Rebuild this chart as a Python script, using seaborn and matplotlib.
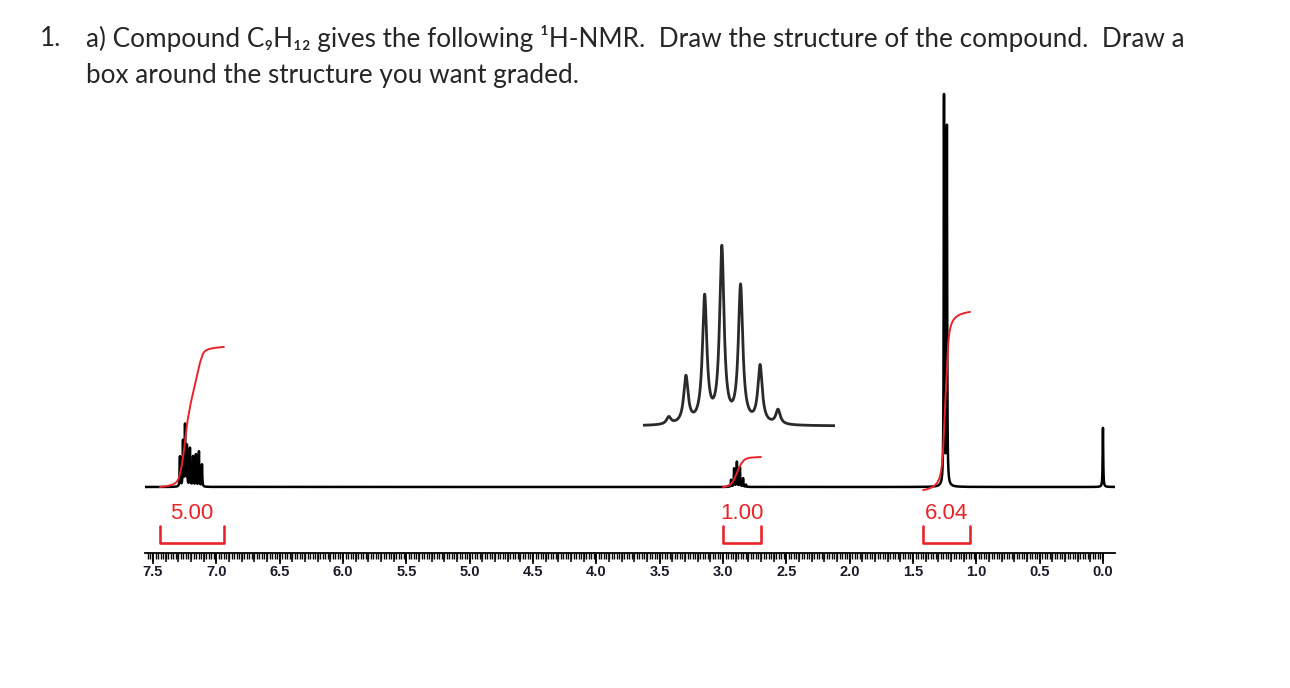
import numpy as np
import pandas as pd
import matplotlib
matplotlib.use('Agg')
import matplotlib.pyplot as plt
import seaborn as sns

# peak lists: shift in ppm, height (tallest line = 100)
arom_ppm = [7.287, 7.263, 7.247, 7.232, 7.208, 7.184, 7.161, 7.137, 7.113]
arom_h = [7.7, 11.6, 15.7, 10.3, 9.8, 7.7, 8.2, 9.0, 5.7]
sept_ppm = [2.958, 2.936, 2.912, 2.890, 2.866, 2.841, 2.818]
sept_h = [0.28, 1.8, 4.7, 6.4, 5.0, 2.2, 0.57]
doub_ppm = [1.255, 1.232]
doub_h = [100, 92]
tms_ppm = [0.0]
tms_h = [15.2]

# expansion of the septet (centre line = 100)
inset_h = [4.0, 26, 70, 97, 76, 32, 8]

# integrals
integ_labels = ['5.00', '1.00', '6.04']
integ_from = [7.445, 3.00, 1.42]
integ_to = [6.94, 2.70, 1.05]
integ_height = [36, 7.7, 45]
integ_start = [0.0, 0.0, -0.8]

tick_labels = ['7.5', '7.0', '6.5', '6.0', '5.5', '5.0', '4.5', '4.0',
               '3.5', '3.0', '2.5', '2.0', '1.5', '1.0', '0.5', '0.0']

line1_num = "1."
line1 = "a) Compound C\u2089H\u2081\u2082 gives the following \u00b9H-NMR.  Draw the structure of the compound.  Draw a"
line2 = "box around the structure you want graded."

all_ppm = arom_ppm + sept_ppm + doub_ppm + tms_ppm
all_h = arom_h + sept_h + doub_h + tms_h


def lorentz(x, centers, heights, fwhm):
    y = np.zeros_like(x)
    for c, h in zip(centers, heights):
        y += h / (1 + ((x - c) / (fwhm / 2)) ** 2)
    return y


sns.set_style('white')
plt.rcParams['font.family'] = ['Lato', 'DejaVu Sans']

W, H = 1290, 688
fig = plt.figure(figsize=(W / 100, H / 100), dpi=100)

RED = '#e8242a'

# main spectrum axes
ax = fig.add_axes([145 / W, (H - 553) / H, 970 / W, 463 / H])
x = np.linspace(-0.095, 7.563, 40000)
y = lorentz(x, all_ppm, all_h, 0.005)
spec = pd.DataFrame({'ppm': x, 'int': y})
sns.lineplot(data=spec, x='ppm', y='int', ax=ax, color='black', lw=1.8,
             estimator=None, sort=False)

# integral curves
for lab, a, b, hgt, s0 in zip(integ_labels, integ_from, integ_to, integ_height, integ_start):
    xr = np.linspace(a, b, 600)
    yr = lorentz(xr, all_ppm, all_h, 0.025)
    cum = np.cumsum(yr)
    cum = s0 + (cum - cum[0]) / (cum[-1] - cum[0]) * (hgt - s0)
    sns.lineplot(x=xr, y=cum, ax=ax, color=RED, lw=1.4, estimator=None, sort=False)
    mid = (a + b) / 2
    ax.text(mid, -6.7, lab, color=RED, ha='center', va='center',
            fontsize=16, family='Liberation Sans')
    ax.plot([a, a, b, b], [-10.0, -14.4, -14.4, -10.0], color=RED, lw=1.9)

ax.set_xlim(7.563, -0.095)
ax.set_ylim(-16.97, 102.06)
ax.set_xlabel('')
ax.set_ylabel('')
ax.set_yticks([])
for sp in ['left', 'right', 'top']:
    ax.spines[sp].set_visible(False)
ax.spines['bottom'].set_color('black')
ax.spines['bottom'].set_linewidth(1.3)

tick_pos = [float(t) for t in tick_labels]
ax.set_xticks(tick_pos)
ax.set_xticklabels(tick_labels, fontsize=10.5, fontweight='bold', family='Liberation Sans',
                   color='#1a1a2a')
ax.set_xticks(np.arange(0, 7.56, 0.02), minor=True)
ax.tick_params(axis='x', which='major', direction='out', length=8, width=1.2, pad=1,
               bottom=True, color='black')
ax.tick_params(axis='x', which='minor', direction='out', length=4.5, width=1.0,
               bottom=True, color='black')
sec = ax.secondary_xaxis('bottom')
sec.set_xticks(np.arange(0, 7.56, 0.1))
sec.tick_params(axis='x', length=6.5, width=1.1, labelbottom=False, color='black')
sec.spines['bottom'].set_visible(False)

# septet expansion
axi = fig.add_axes([643 / W, (H - 432) / H, 192 / W, 197 / H])
xi = np.linspace(2.991, 2.745, 3000)
yi = lorentz(xi, sept_ppm, inset_h, 0.0068)
sns.lineplot(x=xi, y=yi, ax=axi, color='#2a2a2a', lw=2.0, estimator=None, sort=False)
axi.set_xlim(2.991, 2.745)
axi.set_ylim(-3.3, 106.1)
axi.axis('off')

fig.text(40 / W, 1 - 39 / H, line1_num, fontsize=18.8, ha='left', va='center')
fig.text(86 / W, 1 - 39 / H, line1, fontsize=18.8, ha='left', va='center')
fig.text(86 / W, 1 - 76 / H, line2, fontsize=18.8, ha='left', va='center')

fig.savefig('out.png', dpi=100)
